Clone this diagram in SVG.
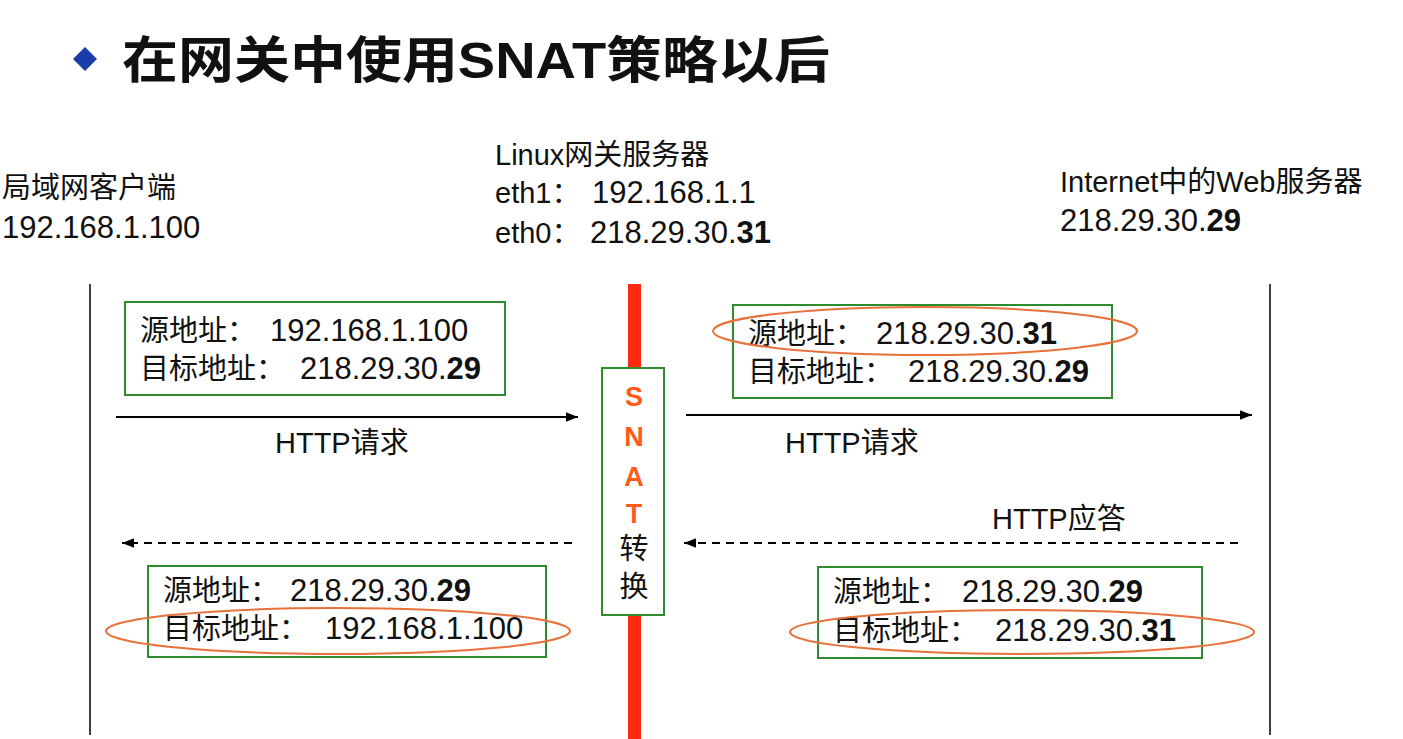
<svg xmlns="http://www.w3.org/2000/svg" width="1403" height="739" viewBox="0 0 1403 739">
<defs>
<style>
text{font-family:"Liberation Sans","Noto Sans CJK SC",sans-serif;fill:#111}
.t{font-size:29px}
.n{font-size:31px}
.b{font-weight:bold}
.box{fill:#fff;stroke:#2e8b2e;stroke-width:2}
.ell{fill:none;stroke:#e8703a;stroke-width:2}
.sol{stroke:#000;stroke-width:2;fill:none}
.dash{stroke:#000;stroke-width:2;fill:none;stroke-dasharray:8,6}
</style>
<marker id="ah" viewBox="0 0 10 10" refX="10" refY="5" markerWidth="6" markerHeight="6" orient="auto-start-reverse"><path d="M0,1 L10,5 L0,9 z" fill="#000"/></marker>
</defs>
<rect width="1403" height="739" fill="#fff"/>
<g id="title">
<path d="M85,47 L97,59 L85,71 L73,59 z" fill="#1a3ca8"/>
<text x="122" y="78" style="font-size:50px;font-weight:bold" textLength="708" lengthAdjust="spacingAndGlyphs">在网关中使用SNAT策略以后</text>
</g>
<g id="client">
<text class="t" x="2" y="198">局域网客户端</text>
<text class="t n" x="2" y="238">192.168.1.100</text>
</g>
<g id="gateway">
<text class="t" x="495" y="165">Linux网关服务器</text>
<text class="t" x="495" y="203">eth1：<tspan class="n" x="592">192.168.1.1</tspan></text>
<text class="t" x="495" y="243">eth0：<tspan class="n" x="590">218.29.30.</tspan><tspan class="n b">31</tspan></text>
</g>
<g id="web">
<text class="t" x="1060" y="192">Internet中的Web服务器</text>
<text class="t n" x="1060" y="231">218.29.30.<tspan class="b">29</tspan></text>
</g>
<g id="lines">
<line x1="90" y1="284" x2="90" y2="735" stroke="#000" stroke-width="1.5"/>
<line x1="1270" y1="284" x2="1270" y2="735" stroke="#000" stroke-width="1.5"/>
<rect x="628" y="284" width="13" height="455" fill="#ff2a10"/>
</g>
<g id="snat">
<rect class="box" x="602" y="368" width="62" height="247"/>
<g style="font-size:27px;font-weight:bold" text-anchor="middle">
<text x="634" y="406" style="fill:#ff5a1a">S</text>
<text x="634" y="446" style="fill:#ff5a1a">N</text>
<text x="634" y="486" style="fill:#ff5a1a">A</text>
<text x="634" y="523" style="fill:#ff5a1a">T</text>
</g>
<text class="t" x="634" y="559" text-anchor="middle">转</text>
<text class="t" x="634" y="597" text-anchor="middle">换</text>
</g>
<g id="box1">
<rect class="box" x="125" y="302" width="380" height="93"/>
<text class="t" x="140" y="341">源地址：<tspan class="n" x="270">192.168.1.100</tspan></text>
<text class="t" x="140" y="379">目标地址：<tspan class="n" x="300">218.29.30.</tspan><tspan class="n b">29</tspan></text>
</g>
<g id="box2">
<rect class="box" x="733" y="305" width="379" height="93"/>
<text class="t" x="748" y="344">源地址：<tspan class="n" x="876">218.29.30.</tspan><tspan class="n b">31</tspan></text>
<text class="t" x="748" y="382">目标地址：<tspan class="n" x="908">218.29.30.</tspan><tspan class="n b">29</tspan></text>
<ellipse class="ell" cx="925" cy="331" rx="212" ry="24"/>
</g>
<g id="box3">
<rect class="box" x="148" y="566" width="398" height="91"/>
<text class="t" x="163" y="601">源地址：<tspan class="n" x="290">218.29.30.</tspan><tspan class="n b">29</tspan></text>
<text class="t" x="163" y="639">目标地址：<tspan class="n" x="325">192.168.1.100</tspan></text>
<ellipse class="ell" cx="338" cy="631" rx="232" ry="23"/>
</g>
<g id="box4">
<rect class="box" x="818" y="567" width="384" height="91"/>
<text class="t" x="833" y="602">源地址：<tspan class="n" x="962">218.29.30.</tspan><tspan class="n b">29</tspan></text>
<text class="t" x="833" y="641">目标地址：<tspan class="n" x="995">218.29.30.</tspan><tspan class="n b">31</tspan></text>
<ellipse class="ell" cx="1022" cy="632" rx="232" ry="22"/>
</g>
<g id="connectors">
<line class="sol" x1="116" y1="417" x2="578" y2="417" marker-end="url(#ah)"/>
<line class="sol" x1="686" y1="415" x2="1252" y2="415" marker-end="url(#ah)"/>
<line class="dash" x1="572" y1="543" x2="122" y2="543" marker-end="url(#ah)"/>
<line class="dash" x1="1238" y1="543" x2="684" y2="543" marker-end="url(#ah)"/>
<text class="t" x="275" y="453">HTTP请求</text>
<text class="t" x="785" y="453">HTTP请求</text>
<text class="t" x="992" y="529">HTTP应答</text>
</g>
</svg>
